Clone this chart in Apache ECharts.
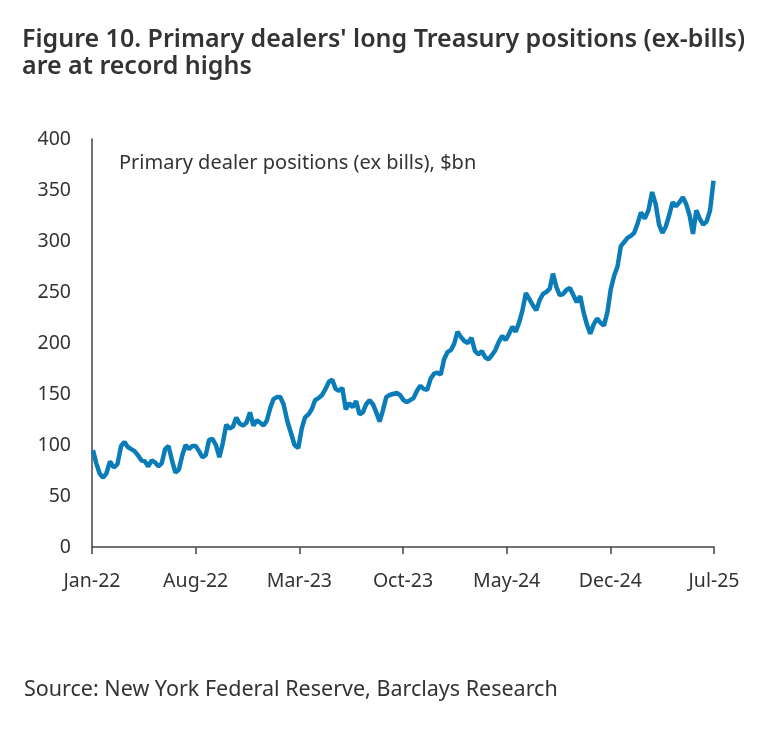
<!DOCTYPE html>
<html>
<head>
<meta charset="utf-8">
<script src="https://cdn.jsdelivr.net/npm/echarts@6/dist/echarts.min.js"></script>
<style>
html,body{margin:0;padding:0;background:#fff;}
#chart{width:780px;height:736px;}
</style>
</head>
<body>
<div id="chart"></div>
<script>
// Weekly observations starting the week of 3 Jan 2022 ($bn)
const startDate = '2022-01-03';
const positions = [
  95,82,72,68,72,84,78,81,99,103,98,96,94,90,85,84,79,85,83,79,
  82,96,99,85,73,76,90,100,96,99,99,94,88,90,105,106,100,88,102,120,
  116,118,127,121,119,122,132,119,124,122,119,124,136,145,147,147,140,124,112,100,
  97,116,127,130,135,144,146,149,155,162,164,155,153,156,135,141,137,143,130,132,
  140,144,140,132,123,134,147,149,150,151,149,144,142,144,146,153,158,155,154,165,
  170,171,169,184,191,193,199,211,206,202,200,205,192,189,192,186,184,188,193,201,
  207,203,209,216,211,220,232,249,243,237,232,242,248,250,253,268,255,247,248,252,
  254,247,240,246,230,218,209,218,224,220,217,230,253,266,275,295,299,303,305,308,
  317,328,322,330,348,336,316,308,314,325,338,334,338,343,336,325,307,330,322,316,
  319,330,359
];
const xTickLabels = ['Jan-22','Aug-22','Mar-23','Oct-23','May-24','Dec-24','Jul-25'];
const yTicks = [0,50,100,150,200,250,300,350,400];
const titleText = "Figure 10. Primary dealers' long Treasury positions (ex-bills)\nare at record highs";
const seriesLabel = 'Primary dealer positions (ex bills), $bn';
const sourceText = 'Source: New York Federal Reserve, Barclays Research';

// convert a date to months since Jan 2022
function monthsSince(d) {
  const y = d.getUTCFullYear(), m = d.getUTCMonth(), day = d.getUTCDate();
  const dim = new Date(Date.UTC(y, m + 1, 0)).getUTCDate();
  return (y - 2022) * 12 + m + (day - 1) / dim;
}
const start = new Date(startDate + 'T00:00:00Z');
const data = positions.map((v, i) => {
  const d = new Date(start.getTime() + i * 7 * 86400000);
  return [monthsSince(d), v];
});

const FONT = '"Noto Sans", "Open Sans", sans-serif';
const chart = echarts.init(document.getElementById('chart'), null, {renderer: 'canvas'});
chart.setOption({
  backgroundColor: '#ffffff',
  animation: false,
  title: [{
    text: titleText,
    left: 17, top: 21,
    textStyle: {fontFamily: FONT, fontSize: 25, fontWeight: 600, color: '#333333', lineHeight: 27}
  }, {
    text: sourceText,
    left: 19, top: 674,
    textStyle: {fontFamily: FONT, fontSize: 21.5, fontWeight: 'normal', color: '#333333'}
  }, {
    text: seriesLabel,
    left: 114, top: 148,
    textStyle: {fontFamily: FONT, fontSize: 20, fontWeight: 'normal', color: '#333333'}
  }],
  grid: {left: 92, right: 66, top: 139, bottom: 189, containLabel: false},
  xAxis: {
    type: 'value',
    min: 0, max: 42, interval: 7,
    splitLine: {show: false},
    axisLine: {show: true, lineStyle: {color: '#444444', width: 1.5}},
    axisTick: {show: true, length: 7, lineStyle: {color: '#444444', width: 1.5}},
    axisLabel: {
      fontFamily: FONT, fontSize: 19.5, color: '#333333', margin: 24,
      formatter: v => xTickLabels[Math.round(v / 7)] || ''
    }
  },
  yAxis: {
    type: 'value',
    min: yTicks[0], max: yTicks[yTicks.length - 1], interval: 50,
    splitLine: {show: false},
    axisLine: {show: true, lineStyle: {color: '#444444', width: 1.5}},
    axisTick: {show: false},
    axisLabel: {fontFamily: FONT, fontSize: 19.5, color: '#333333', margin: 21}
  },
  series: [{
    type: 'line',
    data: data,
    showSymbol: false,
    lineStyle: {color: '#0a7db8', width: 4.5},
    itemStyle: {color: '#0a7db8'}
  }]
});
</script>
</body>
</html>
